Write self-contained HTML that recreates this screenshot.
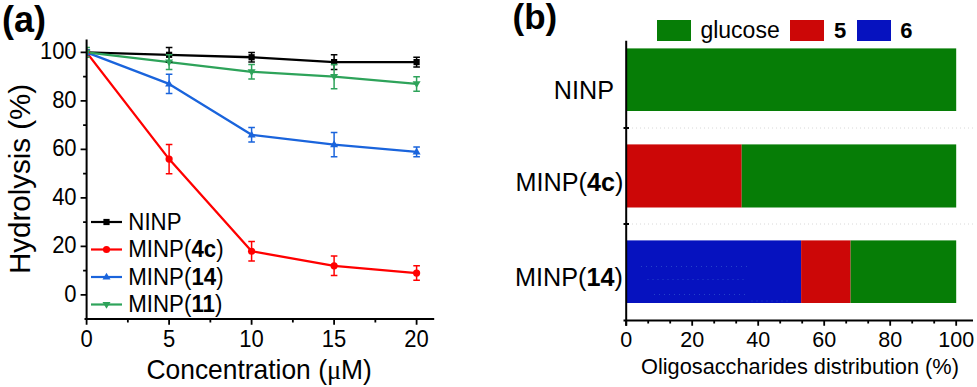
<!DOCTYPE html><html><head><meta charset="utf-8"><style>html,body{margin:0;padding:0;background:#fff;width:977px;height:387px;overflow:hidden}svg{display:block}text{font-family:"Liberation Sans",sans-serif;fill:#000}</style></head><body>
<svg width="977" height="387" viewBox="0 0 977 387">
<defs><clipPath id="ca"><rect x="86.6" y="30" width="360" height="289"/></clipPath></defs>
<rect width="977" height="387" fill="#fff"/>
<text x="2.00" y="32.00" font-size="36" font-weight="bold">(a)</text>
<g clip-path="url(#ca)">
<polyline points="86.60,52.40 169.10,54.82 251.60,57.25 334.10,62.10 416.60,62.10" fill="none" stroke="#000000" stroke-width="2.3" stroke-linejoin="round"/>
<polyline points="86.60,52.40 169.10,159.10 251.60,251.25 334.10,265.80 416.60,273.07" fill="none" stroke="#ff0000" stroke-width="2.3" stroke-linejoin="round"/>
<polyline points="86.60,52.40 169.10,83.92 251.60,134.85 334.10,144.55 416.60,151.82" fill="none" stroke="#1a64dc" stroke-width="2.3" stroke-linejoin="round"/>
<polyline points="86.60,52.40 169.10,62.10 251.60,71.80 334.10,76.65 416.60,83.92" fill="none" stroke="#2ea35a" stroke-width="2.3" stroke-linejoin="round"/>
<path d="M169.10,47.55 V62.10 M165.80,47.55 H172.40 M165.80,62.10 H172.40 M251.60,52.40 V62.10 M248.30,52.40 H254.90 M248.30,62.10 H254.90 M334.10,54.82 V69.38 M330.80,54.82 H337.40 M330.80,69.38 H337.40 M416.60,57.25 V66.95 M413.30,57.25 H419.90 M413.30,66.95 H419.90" stroke="#000000" stroke-width="1.5" fill="none"/>
<rect x="83.50" y="49.30" width="6.2" height="6.2" fill="#000000"/>
<rect x="166.00" y="51.72" width="6.2" height="6.2" fill="#000000"/>
<rect x="248.50" y="54.15" width="6.2" height="6.2" fill="#000000"/>
<rect x="331.00" y="59.00" width="6.2" height="6.2" fill="#000000"/>
<rect x="413.50" y="59.00" width="6.2" height="6.2" fill="#000000"/>
<path d="M169.10,144.55 V173.65 M165.80,144.55 H172.40 M165.80,173.65 H172.40 M251.60,241.55 V260.95 M248.30,241.55 H254.90 M248.30,260.95 H254.90 M334.10,256.10 V275.50 M330.80,256.10 H337.40 M330.80,275.50 H337.40 M416.60,265.80 V280.35 M413.30,265.80 H419.90 M413.30,280.35 H419.90" stroke="#ff0000" stroke-width="1.5" fill="none"/>
<circle cx="86.60" cy="52.40" r="3.6" fill="#ff0000"/>
<circle cx="169.10" cy="159.10" r="3.6" fill="#ff0000"/>
<circle cx="251.60" cy="251.25" r="3.6" fill="#ff0000"/>
<circle cx="334.10" cy="265.80" r="3.6" fill="#ff0000"/>
<circle cx="416.60" cy="273.07" r="3.6" fill="#ff0000"/>
<path d="M86.60,49.97 V54.82 M83.30,49.97 H89.90 M83.30,54.82 H89.90 M169.10,74.22 V93.62 M165.80,74.22 H172.40 M165.80,93.62 H172.40 M251.60,127.57 V142.12 M248.30,127.57 H254.90 M248.30,142.12 H254.90 M334.10,132.42 V156.67 M330.80,132.42 H337.40 M330.80,156.67 H337.40 M416.60,146.97 V156.67 M413.30,146.97 H419.90 M413.30,156.67 H419.90" stroke="#1a64dc" stroke-width="1.5" fill="none"/>
<path d="M86.60,48.20 L90.60,55.00 L82.60,55.00Z" fill="#1a64dc"/>
<path d="M169.10,79.72 L173.10,86.52 L165.10,86.52Z" fill="#1a64dc"/>
<path d="M251.60,130.65 L255.60,137.45 L247.60,137.45Z" fill="#1a64dc"/>
<path d="M334.10,140.35 L338.10,147.15 L330.10,147.15Z" fill="#1a64dc"/>
<path d="M416.60,147.62 L420.60,154.42 L412.60,154.42Z" fill="#1a64dc"/>
<path d="M86.60,47.55 V57.25 M83.30,47.55 H89.90 M83.30,57.25 H89.90 M169.10,54.82 V69.38 M165.80,54.82 H172.40 M165.80,69.38 H172.40 M251.60,64.53 V79.07 M248.30,64.53 H254.90 M248.30,79.07 H254.90 M334.10,64.53 V88.78 M330.80,64.53 H337.40 M330.80,88.78 H337.40 M416.60,76.65 V91.20 M413.30,76.65 H419.90 M413.30,91.20 H419.90" stroke="#2ea35a" stroke-width="1.5" fill="none"/>
<path d="M86.60,56.60 L90.60,49.80 L82.60,49.80Z" fill="#2ea35a"/>
<path d="M169.10,66.30 L173.10,59.50 L165.10,59.50Z" fill="#2ea35a"/>
<path d="M251.60,76.00 L255.60,69.20 L247.60,69.20Z" fill="#2ea35a"/>
<path d="M334.10,80.85 L338.10,74.05 L330.10,74.05Z" fill="#2ea35a"/>
<path d="M416.60,88.12 L420.60,81.32 L412.60,81.32Z" fill="#2ea35a"/>
</g>
<path d="M86.6,39.4 V320.1 M84.5,319.1 H434.2" stroke="#000" stroke-width="2" fill="none"/>
<path d="M80.60,294.90 H86.6 M80.60,246.40 H86.6 M80.60,197.90 H86.6 M80.60,149.40 H86.6 M80.60,100.90 H86.6 M80.60,52.40 H86.6 M83.10,270.65 H86.6 M83.10,222.15 H86.6 M83.10,173.65 H86.6 M83.10,125.15 H86.6 M83.10,76.65 H86.6 M86.60,319.1 V324.7 M169.10,319.1 V324.7 M251.60,319.1 V324.7 M334.10,319.1 V324.7 M416.60,319.1 V324.7 M127.85,319.1 V322.4 M210.35,319.1 V322.4 M292.85,319.1 V322.4 M375.35,319.1 V322.4" stroke="#000" stroke-width="1.8" fill="none"/>
<text transform="translate(76.60,301.80) scale(1.0,1.1)" font-size="22" text-anchor="end">0</text>
<text transform="translate(76.60,253.30) scale(1.0,1.1)" font-size="22" text-anchor="end">20</text>
<text transform="translate(76.60,204.80) scale(1.0,1.1)" font-size="22" text-anchor="end">40</text>
<text transform="translate(76.60,156.30) scale(1.0,1.1)" font-size="22" text-anchor="end">60</text>
<text transform="translate(76.60,107.80) scale(1.0,1.1)" font-size="22" text-anchor="end">80</text>
<text transform="translate(76.60,59.30) scale(1.0,1.1)" font-size="22" text-anchor="end">100</text>
<text transform="translate(86.60,346.60) scale(1.0,1.1)" font-size="22" text-anchor="middle">0</text>
<text transform="translate(169.10,346.60) scale(1.0,1.1)" font-size="22" text-anchor="middle">5</text>
<text transform="translate(251.60,346.60) scale(1.0,1.1)" font-size="22" text-anchor="middle">10</text>
<text transform="translate(334.10,346.60) scale(1.0,1.1)" font-size="22" text-anchor="middle">15</text>
<text transform="translate(416.60,346.60) scale(1.0,1.1)" font-size="22" text-anchor="middle">20</text>
<text transform="translate(146.50,378.60) scale(1.0,1.04)" font-size="26.4">Concentration (<tspan font-family="Liberation Serif">&#956;</tspan>M)</text>
<text transform="translate(29.7,274) rotate(-90)" font-size="29.5">Hydrolysis (%)</text>
<path d="M91,222 H122" stroke="#000000" stroke-width="2.2"/>
<rect x="103.40" y="218.90" width="6.2" height="6.2" fill="#000000"/>
<text transform="translate(128.30,229.70) scale(1.012,1.1)" font-size="22">NINP</text>
<path d="M91,249.5 H122" stroke="#ff0000" stroke-width="2.2"/>
<circle cx="106.50" cy="249.50" r="3.6" fill="#ff0000"/>
<text transform="translate(128.30,257.20) scale(1.012,1.1)" font-size="22">MINP(<tspan font-weight="bold">4c</tspan>)</text>
<path d="M91,277 H122" stroke="#1a64dc" stroke-width="2.2"/>
<path d="M106.50,272.80 L110.50,279.60 L102.50,279.60Z" fill="#1a64dc"/>
<text transform="translate(128.30,284.70) scale(1.012,1.1)" font-size="22">MINP(<tspan font-weight="bold">14</tspan>)</text>
<path d="M91,304.5 H122" stroke="#2ea35a" stroke-width="2.2"/>
<path d="M106.50,308.70 L110.50,301.90 L102.50,301.90Z" fill="#2ea35a"/>
<text transform="translate(128.30,312.20) scale(1.012,1.1)" font-size="22">MINP(<tspan font-weight="bold">11</tspan>)</text>
<text x="512.50" y="28.70" font-size="35" font-weight="bold">(b)</text>
<rect x="657" y="20" width="34" height="21" fill="#067d06"/>
<text x="700.40" y="37.50" font-size="23">glucose</text>
<rect x="790" y="20" width="34" height="21" fill="#cc0707"/>
<text x="834.00" y="38.00" font-size="22" font-weight="bold">5</text>
<rect x="857" y="20" width="34" height="21" fill="#0612bf"/>
<text x="900.30" y="38.00" font-size="22" font-weight="bold">6</text>
<path d="M628,128 H973 M628,224 H973" stroke="#d8d8d8" stroke-width="1" stroke-dasharray="1,3" fill="none"/>
<rect x="626.20" y="48.4" width="330.00" height="62.6" fill="#067d06"/>
<rect x="626.20" y="144.4" width="115.50" height="63.1" fill="#cc0707"/>
<rect x="741.70" y="144.4" width="214.50" height="63.1" fill="#067d06"/>
<rect x="626.20" y="240.4" width="174.90" height="62.6" fill="#0612bf"/>
<rect x="801.10" y="240.4" width="49.50" height="62.6" fill="#cc0707"/>
<rect x="850.60" y="240.4" width="105.60" height="62.6" fill="#067d06"/>
<path d="M641,266.5 H747 M647.5,279.5 H744 M654,294.5 H745 M751.5,301 H788" stroke="#3a64d0" stroke-width="1" stroke-dasharray="1,4" opacity="0.6" fill="none"/>
<path d="M626.2,40.7 V325.7 M623.5,320.5 H973" stroke="#000" stroke-width="2" fill="none"/>
<path d="M623.5,128 H629 M623.5,224 H629 M626.20,320.5 V325.7 M692.20,320.5 V325.7 M758.20,320.5 V325.7 M824.20,320.5 V325.7 M890.20,320.5 V325.7 M956.20,320.5 V325.7 M648.20,320.5 V323.5 M670.20,320.5 V323.5 M714.20,320.5 V323.5 M736.20,320.5 V323.5 M780.20,320.5 V323.5 M802.20,320.5 V323.5 M846.20,320.5 V323.5 M868.20,320.5 V323.5 M912.20,320.5 V323.5 M934.20,320.5 V323.5" stroke="#000" stroke-width="1.8" fill="none"/>
<text x="626.20" y="347.00" font-size="21.5" text-anchor="middle">0</text>
<text x="692.20" y="347.00" font-size="21.5" text-anchor="middle">20</text>
<text x="758.20" y="347.00" font-size="21.5" text-anchor="middle">40</text>
<text x="824.20" y="347.00" font-size="21.5" text-anchor="middle">60</text>
<text x="890.20" y="347.00" font-size="21.5" text-anchor="middle">80</text>
<text x="956.20" y="347.00" font-size="21.5" text-anchor="middle">100</text>
<text x="641.00" y="374.00" font-size="21.75">Oligosaccharides distribution (%)</text>
<text transform="translate(614.00,98.90) scale(1.0,1.02)" font-size="25.2" text-anchor="end">NINP</text>
<text transform="translate(623.30,190.70) scale(1.0,1.02)" font-size="25.2" text-anchor="end">MINP(<tspan font-weight="bold">4c</tspan>)</text>
<text transform="translate(622.80,286.00) scale(1.0,1.02)" font-size="25.2" text-anchor="end">MINP(<tspan font-weight="bold">14</tspan>)</text>
</svg></body></html>
